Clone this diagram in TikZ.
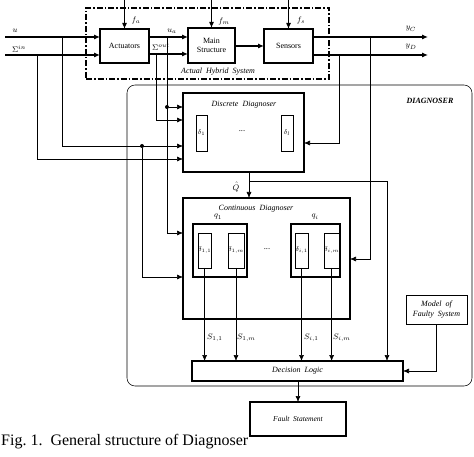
\documentclass[tikz,border=0pt]{standalone}
\usepackage{fontspec}
\setmainfont{Liberation Serif}
\usetikzlibrary{arrows.meta}
\begin{document}
\begin{tikzpicture}[x=1pt,y=-1pt,
  thk/.style={line width=1.1pt},
  thn/.style={line width=0.55pt},
  arr/.style={-{Latex[length=6pt,width=5pt]}},
  bx/.style={draw,inner sep=0pt,outer sep=0pt,anchor=north west,align=center},
  sysbox/.style={bx,thk,font=\fontsize{8}{9.5}\selectfont},
  ibox/.style={bx,thk},
  dbox/.style={bx,thn,font=\fontsize{7.5}{8}\selectfont},
  lab/.style={inner sep=0pt,font=\fontsize{8.5}{9}\selectfont},
  itl/.style={inner sep=0pt,font=\fontsize{8}{9.5}\selectfont\itshape,align=center},
  dot/.style={circle,fill,inner sep=0pt,minimum size=4pt}
]
\useasboundingbox (0,0) rectangle (474,457);

% Diagnoser frame
\node[bx,thn,rounded corners=8pt,minimum width=345pt,minimum height=301pt] (diag) at (127,85) {};
\node[inner sep=0pt,font=\fontsize{8}{9}\selectfont\bfseries\itshape] (diaglab) at (430,101) {DIAGNOSER};

% Actual hybrid system
\node[bx,thk,dash pattern=on 6pt off 2pt on 1.5pt off 2pt,minimum width=243pt,minimum height=71pt] (ahs) at (86,8) {};
\node[itl] (ahslab) at (218,72) {Actual\ \ Hybrid\ \ System};
\node[sysbox,minimum width=49pt,minimum height=34pt] (act) at (100,29) {Actuators};
\node[sysbox,minimum width=47pt,minimum height=35pt] (main) at (188,28) {Main\\Structure};
\node[sysbox,minimum width=49pt,minimum height=34pt] (sens) at (264,29) {Sensors};

% external inputs / outputs
\coordinate (uin) at (5,37);
\coordinate (sin) at (5,55);
\coordinate (fa) at (124.5,0);
\coordinate (fm) at (211.5,0);
\coordinate (fs) at (288.5,0);
\coordinate (yc) at (428,37);
\coordinate (yd) at (428,55);

\draw[thk,arr] (uin) -- (uin -| act.west);
\draw[thk,arr] (sin) -- (sin -| act.west);
\draw[thk,arr] (fa) -- (act.north);
\draw[thk,arr] (fm) -- (main.north);
\draw[thk,arr] (fs) -- (sens.north);
\coordinate (ua) at (149,37);
\coordinate (so) at (149,54);
\draw[thk,arr] (ua) -- (ua -| main.west);
\draw[thk,arr] (so) -- (so -| main.west);
\draw[thk,arr] (main.east |- sens.west) -- (sens.west);
\draw[thk,arr] (yc -| sens.east) -- (yc);
\draw[thk,arr] (yd -| sens.east) -- (yd);

\node[lab] (lu) at (15,31) {$u$};
\node[lab] (lsin) at (19,49) {$\Sigma^{in}$};
\node[lab] (lfa) at (136,21) {$f_a$};
\node[lab] (lfm) at (224,22) {$f_m$};
\node[lab] (lfs) at (301,21) {$f_s$};
\node[lab] (lua) at (172,31) {$u_a$};
\node[lab] (lso) at (161,47) {$\Sigma^{out}$};
\node[lab] (lyc) at (411,29) {$y_C$};
\node[lab] (lyd) at (411,47) {$y_D$};

% Discrete diagnoser
\node[ibox,minimum width=121pt,minimum height=79pt] (disc) at (183,93) {};
\node[itl] (disclab) at (244,105) {Discrete\ \ Diagnoser};
\node[dbox,minimum width=11pt,minimum height=36pt] (d1) at (196,115) {$\delta_1$};
\node[dbox,minimum width=12pt,minimum height=36pt] (dl) at (281,115) {$\delta_l$};
\node[lab] (ddots) at (242,131) {...};

% Continuous diagnoser
\node[ibox,minimum width=167pt,minimum height=121pt] (cont) at (183,198) {};
\node[itl] (contlab) at (256,209) {Continuous\ \ Diagnoser};
\node[ibox,minimum width=54pt,minimum height=53pt] (q1) at (193,224) {};
\node[ibox,minimum width=49pt,minimum height=53pt] (qi) at (291,224) {};
\node[lab] (lq1) at (218,217) {$q_1$};
\node[lab] (lqi) at (315,217) {$q_i$};
\node[dbox,minimum width=12pt,minimum height=35pt] (d11) at (198,233) {$\delta_{1,1}$};
\node[dbox,minimum width=12pt,minimum height=35pt] (d1m) at (228,233) {$\delta_{1,m}$};
\node[dbox,minimum width=13pt,minimum height=35pt] (di1) at (295,233) {$\delta_{i,1}$};
\node[dbox,minimum width=13pt,minimum height=35pt] (dim) at (324,233) {$\delta_{i,m}$};
\node[lab] (cdots) at (267,249) {...};

% Decision logic, model, fault statement
\node[ibox,minimum width=211pt,minimum height=20pt,font=\fontsize{8}{9}\selectfont\itshape] (dlog) at (192,361) {Decision\ \ Logic};
\node[bx,thn,minimum width=61pt,minimum height=29pt,font=\fontsize{8}{9.5}\selectfont\itshape] (model) at (406,295) {Model\ \ of\\Faulty\ \ System};
\node[ibox,minimum width=96pt,minimum height=34pt,font=\fontsize{7.5}{9}\selectfont\itshape] (fault) at (250,402) {Fault\ \ Statement};

% internal connections
\coordinate (uT) at (62,37);
\coordinate (u2) at (62,146);
\coordinate (sT) at (37,55);
\coordinate (s2) at (37,159);
\coordinate (uaT) at (167,37);
\coordinate (ua2) at (167,233);
\coordinate (soT) at (156,54);
\coordinate (so2) at (156,120);
\coordinate (ydT) at (339,55);
\coordinate (yd2) at (339,143);
\coordinate (ycT) at (370,37);
\coordinate (yc2) at (370,259);
\node[dot] (dotA) at (167,107) {};
\node[dot] (dotB) at (142,146) {};
\coordinate (b2) at (142,277);

\draw[thn,arr] (uT) -- (u2) -- (u2 -| disc.west);
\draw[thn,arr] (dotB) -- (b2) -- (b2 -| cont.west);
\draw[thn,arr] (sT) -- (s2) -- (s2 -| disc.west);
\draw[thn,arr] (uaT) -- (ua2) -- (ua2 -| cont.west);
\draw[thn,arr] (dotA) -- (dotA -| disc.west);
\draw[thn,arr] (soT) -- (so2) -- (so2 -| disc.west);
\draw[thn,arr] (ydT) -- (yd2) -- (yd2 -| disc.east);
\draw[thn,arr] (ycT) -- (yc2) -- (yc2 -| cont.east);

% Q hat
\coordinate (qa) at (249,172);
\coordinate (qb) at (249,181);
\coordinate (qc) at (387,181);
\draw[thn,arr] (qa) -- (qa |- cont.north);
\draw[thn,arr] (qb) -- (qc) -- (qc |- dlog.north);
\node[lab] (lq) at (236,187) {$\hat{Q}$};

\draw[thn,arr] (d11.south) -- (d11.south |- dlog.north);
\draw[thn,arr] (d1m.south) -- (d1m.south |- dlog.north);
\draw[thn,arr] (di1.south) -- (di1.south |- dlog.north);
\draw[thn,arr] (dim.south) -- (dim.south |- dlog.north);
\node[lab,anchor=west] (ls11) at (207,338) {$S_{1,1}$};
\node[lab,anchor=west] (ls1m) at (237,338) {$S_{1,m}$};
\node[lab,anchor=west] (lsi1) at (304,338) {$S_{i,1}$};
\node[lab,anchor=west] (lsim) at (333,338) {$S_{i,m}$};

\draw[thn,arr] (model.south) |- (dlog.east);
\draw[thn,arr] (dlog.south -| fault.north) -- (fault.north);

% caption
\node[anchor=base west,inner sep=0pt,font=\fontsize{16}{18}\selectfont] (cap) at (1,445) {Fig.\ 1.\ \ General structure of Diagnoser};
\end{tikzpicture}
\end{document}
